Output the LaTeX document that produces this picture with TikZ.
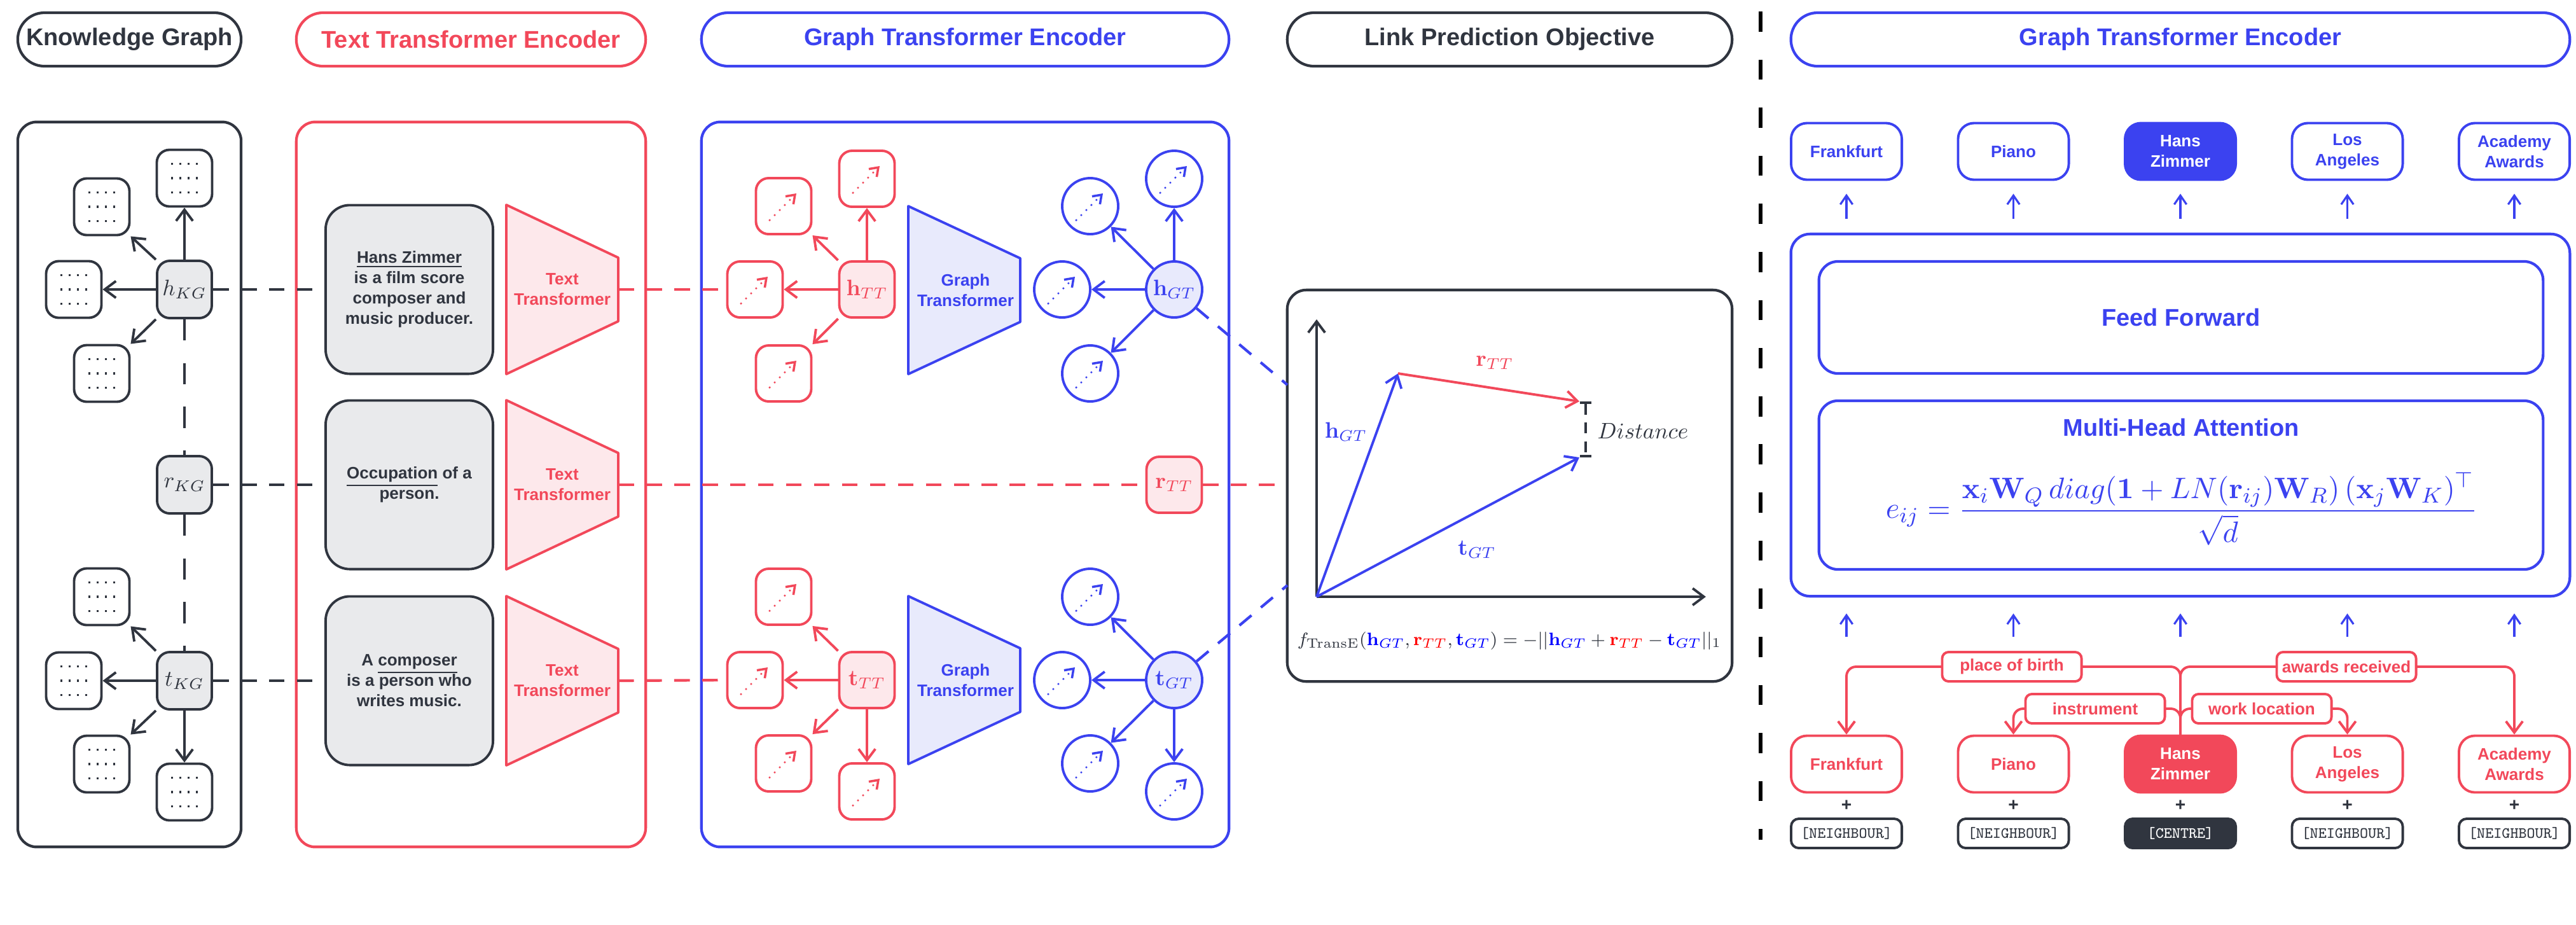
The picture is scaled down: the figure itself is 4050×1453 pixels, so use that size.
\documentclass[tikz,border=0pt]{standalone}
\usepackage[no-math]{fontspec}
\setmainfont{Liberation Sans}
\usetikzlibrary{arrows.meta,calc}
\definecolor{kdark}{RGB}{48,53,63}
\definecolor{kred}{RGB}{242,72,90}
\definecolor{kblue}{RGB}{59,66,240}
\definecolor{kpink}{RGB}{253,232,235}
\definecolor{klblue}{RGB}{232,234,252}
\definecolor{kgray}{RGB}{233,234,236}
\newcommand\hdrfont{\bfseries\fontsize{10.8}{13}\selectfont}
\newcommand\lblfont{\bfseries\fontsize{7.4}{9.1}\selectfont}
\newcommand\bigfont{\bfseries\fontsize{10.8}{13}\selectfont}
\newcommand\kmath{\fontsize{10}{12}\selectfont}
\newcommand\nmath{\fontsize{10}{12}\selectfont}
\tikzset{
  lw/.style={line width=1.1pt},
  hdr/.style={draw=#1, text=#1, line width=1.2pt, rounded corners=0.42cm, minimum height=0.84cm, inner sep=0pt, font=\hdrfont},
  panel/.style={draw=#1, line width=1.2pt, rounded corners=0.3cm, inner sep=0pt},
  kgbox/.style={draw=kdark, fill=kgray, text=kdark, line width=1.1pt, rounded corners=0.2cm, minimum width=0.86cm, minimum height=0.90cm, inner sep=0pt, font=\kmath},
  dotbox/.style={draw=kdark, fill=white, line width=1.1pt, rounded corners=0.2cm, minimum width=0.87cm, minimum height=0.89cm, inner sep=0pt,
    path picture={\foreach \i in {-1.5,-0.5,0.5,1.5}{\foreach \j in {-1,0,1}{\fill[kdark, draw=none, sharp corners] ($(path picture bounding box.center)+(\i*13-1.75,\j*22.5-1.75)$) rectangle ++(3.5,3.5);}}}},
  dotarr/.style={line width=1.0pt, sharp corners, dash pattern=on 0pt off 3.2pt, line cap=round, -{Straight Barb[length=3.5pt,width=5pt]}},
  rnode/.style={draw=kred, fill=white, line width=1.1pt, rounded corners=0.2cm, minimum width=0.87cm, minimum height=0.88cm, inner sep=0pt,
    path picture={\draw[kred, dotarr] ($(path picture bounding box.center)+(-22,22)$) -- ($(path picture bounding box.center)+(20,-20)$);}},
  rcen/.style={draw=kred, fill=kpink, text=kred, line width=1.1pt, rounded corners=0.2cm, minimum width=0.87cm, minimum height=0.88cm, inner sep=0pt, font=\nmath},
  bnode/.style={circle, draw=kblue, fill=white, line width=1.1pt, minimum size=0.88cm, inner sep=0pt,
    path picture={\draw[kblue, dotarr] ($(path picture bounding box.center)+(-22,22)$) -- ($(path picture bounding box.center)+(20,-20)$);}},
  bcen/.style={circle, draw=kblue, fill=klblue, text=kblue, line width=1.1pt, minimum size=0.88cm, inner sep=0pt, font=\nmath},
  tbox/.style={draw=kdark, fill=kgray, text=kdark, line width=1.1pt, rounded corners=0.38cm, minimum width=2.63cm, minimum height=2.65cm, align=center, font=\lblfont, inner sep=0pt},
  karr/.style={kdark, line width=1.1pt, -{Straight Barb[length=5pt,width=7.5pt]}},
  rarr/.style={kred, line width=1.1pt, -{Straight Barb[length=5pt,width=7.5pt]}},
  barr/.style={kblue, line width=1.1pt, -{Straight Barb[length=5pt,width=7.5pt]}},
  uparr/.style={kblue, line width=0.9pt, -{Straight Barb[length=4pt,width=5.5pt]}},
  kdash/.style={line width=1.2pt, dash pattern=on 7pt off 5.5pt},
  kdashv/.style={kdark, line width=1.1pt, dash pattern=on 9.5pt off 10pt},
  onode/.style={draw=#1, text=#1, fill=white, line width=1.1pt, rounded corners=0.25cm, minimum width=1.74cm, minimum height=0.89cm, align=center, font=\lblfont, inner sep=0pt},
  onodef/.style={draw=#1, text=white, fill=#1, line width=1.1pt, rounded corners=0.25cm, minimum width=1.74cm, minimum height=0.89cm, align=center, font=\lblfont, inner sep=0pt},
  tok/.style={draw=kdark, text=kdark, fill=white, line width=1.1pt, rounded corners=0.12cm, minimum width=1.74cm, minimum height=0.46cm, inner sep=0pt, font=\ttfamily\fontsize{7}{8}\selectfont},
  rlab/.style={draw=kred, text=kred, fill=white, line width=1.1pt, rounded corners=0.1cm, minimum width=2.19cm, minimum height=0.46cm, inner sep=0pt, font=\lblfont},
  relline/.style={kred, line width=1.1pt, rounded corners=0.15cm, -{Straight Barb[length=5pt,width=7.5pt]}},
  plus/.style={text=kdark, font=\bfseries\fontsize{8}{9}\selectfont, inner sep=0pt}
}
\begin{document}
\begin{tikzpicture}[x=0.01cm,y=-0.01cm,line join=round]
\useasboundingbox (0,0) rectangle (4050,1453);
% headers
\node[hdr=kdark, minimum width=3.51cm] (hdrKG) at (203.5,62) {Knowledge Graph};
\node[hdr=kred, minimum width=5.49cm] (hdrTT) at (740.5,62) {Text Transformer Encoder};
\node[hdr=kblue, minimum width=8.29cm] (hdrGT) at (1517.5,62) {Graph Transformer Encoder};
\node[hdr=kdark, minimum width=6.99cm] (hdrLP) at (2373.5,62) {Link Prediction Objective};
\node[hdr=kblue, minimum width=12.24cm] (hdrGT2) at (3428,62) {Graph Transformer Encoder};
% panels
\node[panel=kdark, minimum width=3.51cm, minimum height=11.39cm] (pKG) at (203.5,761.5) {};
\node[panel=kred, minimum width=5.49cm, minimum height=11.39cm] (pTT) at (740.5,761.5) {};
\node[panel=kblue, minimum width=8.29cm, minimum height=11.39cm] (pGT) at (1517.5,761.5) {};
\node[panel=kdark, minimum width=6.99cm, minimum height=6.15cm] (pLP) at (2373.5,763.5) {};
\node[panel=kblue, minimum width=12.24cm, minimum height=5.69cm] (enc) at (3428,652.5) {};
\node[panel=kblue, minimum width=11.38cm, minimum height=1.76cm, text=kblue, font=\bigfont] (ff) at (3429,499) {Feed Forward};
\node[panel=kblue, minimum width=11.38cm, minimum height=2.65cm] (mha) at (3429,762.5) {};
\node[text=kblue, font=\bigfont] (mhat) at (3429,672) {Multi-Head Attention};
\node[text=kblue, font=\fontsize{10.95}{13}\selectfont] (mhaeq) at (3430,800) {\scalebox{1.21}{$\displaystyle e_{ij} = \frac{\mathbf{x}_i \mathbf{W}_Q \, diag(\mathbf{1} + LN(\mathbf{r}_{ij})\mathbf{W}_R)\,(\mathbf{x}_j \mathbf{W}_K)^{\top}}{\sqrt{d}}$}};
% separator
\coordinate (sepT) at (2768,18);
\coordinate (sepB) at (2768,1320);
\draw[black, line width=1.8pt, dash pattern=on 9pt off 12.5pt] (sepT) -- (sepB);
% knowledge graph
\node[kgbox] (hkg) at (290,455) {$h_{KG}$};
\node[kgbox] (rkg) at (290,762) {$r_{KG}$};
\node[kgbox] (tkg) at (290,1070) {$t_{KG}$};
\node[dotbox] (hk1) at (290,280) {};
\node[dotbox] (hk2) at (160,325) {};
\node[dotbox] (hk3) at (116,455) {};
\node[dotbox] (hk4) at (160,587) {};
\node[dotbox] (tk1) at (160,938) {};
\node[dotbox] (tk2) at (116,1070) {};
\node[dotbox] (tk3) at (160,1201) {};
\node[dotbox] (tk4) at (290,1245) {};
\draw[karr] (hkg.north) -- (hk1.south);
\draw[karr] (hkg.north west) -- (hk2.south east);
\draw[karr] (hkg.west) -- (hk3.east);
\draw[karr] (hkg.south west) -- (hk4.north east);
\draw[karr] (tkg.north west) -- (tk1.south east);
\draw[karr] (tkg.west) -- (tk2.east);
\draw[karr] (tkg.south west) -- (tk3.north east);
\draw[karr] (tkg.south) -- (tk4.north);
\draw[kdashv] (hkg.south) -- (rkg.north);
\draw[kdashv] (rkg.south) -- (tkg.north);
% text transformer
\node[tbox] (tx1) at (643.5,455) {\underline{Hans Zimmer}\\is a film score\\composer and\\music producer.};
\node[tbox] (tx2) at (643.5,762) {\underline{Occupation} of a\\person.};
\node[tbox] (tx3) at (643.5,1070) {A \underline{composer}\\is a person who\\writes music.};
\foreach \c/\n in {455/1, 762/2, 1070/3} {
  \draw[kred, fill=kpink, lw] (796,\c-133) -- (972,\c-50) -- (972,\c+50) -- (796,\c+133) -- cycle;
  \node[text=kred, font=\lblfont, align=center] (ttl\n) at (884,\c) {Text\\Transformer};
  \coordinate (ttr\n) at (972,\c);
}
\draw[kdash, kdark] (hkg.east) -- (tx1.west);
\draw[kdash, kdark] (rkg.east) -- (tx2.west);
\draw[kdash, kdark] (tkg.east) -- (tx3.west);
% graph transformer: red
\node[rcen] (hTT) at (1363,455) {$\mathbf{h}_{TT}$};
\node[rnode] (hr1) at (1363,281) {};
\node[rnode] (hr2) at (1232,324) {};
\node[rnode] (hr3) at (1187,455) {};
\node[rnode] (hr4) at (1232,587) {};
\draw[rarr] (hTT.north) -- (hr1.south);
\draw[rarr] (hTT.north west) -- (hr2.south east);
\draw[rarr] (hTT.west) -- (hr3.east);
\draw[rarr] (hTT.south west) -- (hr4.north east);
\node[rcen] (tTT) at (1363,1069) {$\mathbf{t}_{TT}$};
\node[rnode] (tr1) at (1232,938) {};
\node[rnode] (tr2) at (1187,1069) {};
\node[rnode] (tr3) at (1232,1200) {};
\node[rnode] (tr4) at (1363,1244) {};
\draw[rarr] (tTT.north west) -- (tr1.south east);
\draw[rarr] (tTT.west) -- (tr2.east);
\draw[rarr] (tTT.south west) -- (tr3.north east);
\draw[rarr] (tTT.south) -- (tr4.north);
\node[rcen] (rTT) at (1846,762) {$\mathbf{r}_{TT}$};
\foreach \c/\n in {456/1, 1069/2} {
  \draw[kblue, fill=klblue, lw] (1428,\c-132) -- (1604,\c-50) -- (1604,\c+50) -- (1428,\c+132) -- cycle;
  \node[text=kblue, font=\lblfont, align=center] (gtl\n) at (1518,\c) {Graph\\Transformer};
}
% graph transformer: blue
\node[bcen] (hGT) at (1846,455) {$\mathbf{h}_{GT}$};
\node[bnode] (hb1) at (1846,281) {};
\node[bnode] (hb2) at (1714,324) {};
\node[bnode] (hb3) at (1670,455) {};
\node[bnode] (hb4) at (1714,587) {};
\draw[barr] (hGT) -- (hb1);
\draw[barr] (hGT) -- (hb2);
\draw[barr] (hGT) -- (hb3);
\draw[barr] (hGT) -- (hb4);
\node[bcen] (tGT) at (1846,1069) {$\mathbf{t}_{GT}$};
\node[bnode] (tb1) at (1714,938) {};
\node[bnode] (tb2) at (1670,1069) {};
\node[bnode] (tb3) at (1714,1200) {};
\node[bnode] (tb4) at (1846,1244) {};
\draw[barr] (tGT) -- (tb1);
\draw[barr] (tGT) -- (tb2);
\draw[barr] (tGT) -- (tb3);
\draw[barr] (tGT) -- (tb4);
% red dashed links
\draw[kdash, kred] (ttr1) -- (hr3.west);
\draw[kdash, kred] (ttr2) -- (rTT.west);
\draw[kdash, kred] (ttr3) -- (tr2.west);
\draw[kdash, kred] (rTT.east) -- (rTT.east -| pLP.west);
\coordinate (lpA) at (2024,605);
\coordinate (lpB) at (2024,920);
\draw[kdash, kblue] (hGT) -- (lpA);
\draw[kdash, kblue] (tGT) -- (lpB);
% link prediction plot
\coordinate (O) at (2070,938);
\coordinate (ytop) at (2070,502);
\coordinate (xend) at (2682,938);
\coordinate (hend) at (2198,587);
\coordinate (rend) at (2483,631);
\coordinate (tend) at (2483,719);
\coordinate (d1) at (2493,631);
\coordinate (d2) at (2493,719);
\draw[karr] (O) -- (ytop);
\draw[karr] (O) -- (xend);
\draw[barr] (O) -- (hend);
\draw[rarr] (hend) -- (rend);
\draw[barr] (O) -- (tend);
\draw[kdark, line width=1.1pt, dash pattern=on 5pt off 3.5pt, {Bar[width=5pt]}-{Bar[width=5pt]}] (d1) -- (d2);
\node[text=kred, font=\nmath] (lr) at (2350,570) {$\mathbf{r}_{TT}$};
\node[text=kblue, font=\nmath] (lh) at (2116,679) {$\mathbf{h}_{GT}$};
\node[text=kblue, font=\nmath] (lt) at (2322,864) {$\mathbf{t}_{GT}$};
\node[text=kdark, font=\nmath] (ld) at (2583,677) {$Distance$};
\node[text=kdark, font=\fontsize{8}{10}\selectfont] (fte) at (2373,1007) {$f_{\mathrm{TransE}}({\color{blue}\mathbf{h}_{GT}}, {\color{red}\mathbf{r}_{TT}}, {\color{blue}\mathbf{t}_{GT}}) = -||{\color{blue}\mathbf{h}_{GT}} + {\color{red}\mathbf{r}_{TT}} - {\color{blue}\mathbf{t}_{GT}}||_1$};
% right: outputs
\node[onode=kblue] (o1) at (2903,238) {Frankfurt};
\node[onode=kblue] (o2) at (3165.5,238) {Piano};
\node[onodef=kblue] (o3) at (3428,238) {Hans\\Zimmer};
\node[onode=kblue] (o4) at (3690.5,238) {Los\\Angeles};
\node[onode=kblue] (o5) at (3953,238) {Academy\\Awards};
% right: inputs
\node[onode=kred] (b1) at (2903,1201) {Frankfurt};
\node[onode=kred] (b2) at (3165.5,1201) {Piano};
\node[onodef=kred] (b3) at (3428,1201) {Hans\\Zimmer};
\node[onode=kred] (b4) at (3690.5,1201) {Los\\Angeles};
\node[onode=kred] (b5) at (3953,1201) {Academy\\Awards};
\node[tok] (k1) at (2903,1310) {[NEIGHBOUR]};
\node[tok] (k2) at (3165.5,1310) {[NEIGHBOUR]};
\node[tok, fill=kdark, text=white] (k3) at (3428,1310) {[CENTRE]};
\node[tok] (k4) at (3690.5,1310) {[NEIGHBOUR]};
\node[tok] (k5) at (3953,1310) {[NEIGHBOUR]};
\foreach \i in {1,...,5} {\node[plus] (pl\i) at ($(b\i.south)!0.5!(k\i.north)$) {+};}
% relations
\coordinate (cpob) at (3163,1048);
\coordinate (caw) at (3689,1048);
\coordinate (cins) at (3294,1114);
\coordinate (cwl) at (3556,1114);
\draw[relline] (b3.north) |- (cpob) -| (b1.north);
\draw[relline] (b3.north) |- (caw) -| (b5.north);
\draw[relline] (b3.north) |- (cins) -| (b2.north);
\draw[relline] (b3.north) |- (cwl) -| (b4.north);
\node[rlab] (pob) at (cpob) {place of birth};
\node[rlab] (awr) at (caw) {awards received};
\node[rlab] (ins) at (cins) {instrument};
\node[rlab] (wl) at (cwl) {work location};
\foreach \i in {1,...,5} {
  \draw[uparr, shorten <=0.22cm, shorten >=0.2cm] (o\i.south |- enc.north) -- (o\i.south);
  \draw[uparr, shorten <=0.22cm, shorten >=0.25cm] (b\i.north |- pob.north) -- (b\i.north |- enc.south);
}
\end{tikzpicture}
\end{document}
